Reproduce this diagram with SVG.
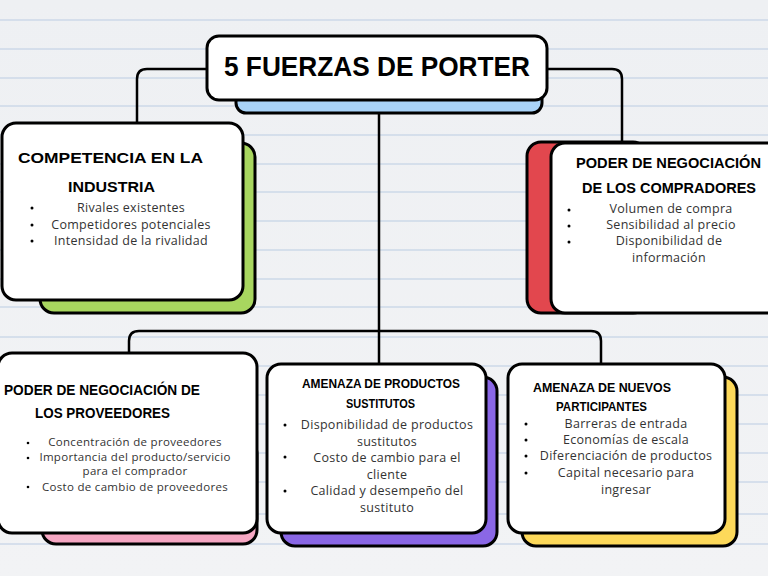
<svg xmlns="http://www.w3.org/2000/svg" width="768" height="576" viewBox="0 0 768 576">
<defs>
<linearGradient id="bg" x1="0" y1="0" x2="0" y2="1">
<stop offset="0" stop-color="#eef0f3"/>
<stop offset="1" stop-color="#f2f3f5"/>
</linearGradient>
</defs>
<style>
.rule{stroke:#cdd8e8;stroke-width:1.5}
.box{fill:#ffffff;stroke:#000;stroke-width:3}
.sh{stroke:#000;stroke-width:3}
.conn{fill:none;stroke:#000;stroke-width:2.5}
.title{font-family:"Liberation Sans",Arial,sans-serif;font-weight:700;font-size:28px;fill:#000}
.head{font-family:"Liberation Sans",Arial,sans-serif;font-weight:700;fill:#000}
.body{font-family:"Open Sans","Liberation Sans",sans-serif;font-weight:400;font-size:12.5px;letter-spacing:0.3px;fill:#333333;text-anchor:middle}
.small{font-size:11.5px;letter-spacing:0.3px}
.dot{fill:#000}
</style>
<rect x="0" y="0" width="768" height="576" fill="url(#bg)"/>
<g id="rules">
<line class="rule" x1="0" y1="20" x2="768" y2="20"/>
<line class="rule" x1="0" y1="49" x2="768" y2="49"/>
<line class="rule" x1="0" y1="78" x2="768" y2="78"/>
<line class="rule" x1="0" y1="106" x2="768" y2="106"/>
<line class="rule" x1="0" y1="135" x2="768" y2="135"/>
<line class="rule" x1="0" y1="164" x2="768" y2="164"/>
<line class="rule" x1="0" y1="192" x2="768" y2="192"/>
<line class="rule" x1="0" y1="221" x2="768" y2="221"/>
<line class="rule" x1="0" y1="250" x2="768" y2="250"/>
<line class="rule" x1="0" y1="279" x2="768" y2="279"/>
<line class="rule" x1="0" y1="307" x2="768" y2="307"/>
<line class="rule" x1="0" y1="337" x2="768" y2="337"/>
<line class="rule" x1="0" y1="366" x2="768" y2="366"/>
<line class="rule" x1="0" y1="395" x2="768" y2="395"/>
<line class="rule" x1="0" y1="424" x2="768" y2="424"/>
<line class="rule" x1="0" y1="453" x2="768" y2="453"/>
<line class="rule" x1="0" y1="482" x2="768" y2="482"/>
<line class="rule" x1="0" y1="514" x2="768" y2="514"/>
<line class="rule" x1="0" y1="544" x2="768" y2="544"/>
</g>
<g id="connectors">
<path class="conn" d="M207,69 H147 Q137,69 137,79 V124"/>
<path class="conn" d="M547,69 H612 Q622,69 622,79 V144"/>
<path class="conn" d="M379,110 V364"/>
<path class="conn" d="M129,353 V341 Q129,331 139,331 H591 Q601,331 601,341 V365"/>
</g>
<g id="title">
<rect class="sh" x="236" y="84" width="306" height="29" rx="10" fill="#a9d3f8"/>
<rect class="box" x="207" y="36" width="340" height="64" rx="12"/>
<text class="title" x="377" y="76" text-anchor="middle" textLength="306" lengthAdjust="spacingAndGlyphs">5 FUERZAS DE PORTER</text>
</g>
<g id="competencia">
<rect class="sh" x="40" y="143" width="215" height="170" rx="14" fill="#a8d65f"/>
<rect class="box" x="2" y="123" width="241" height="177" rx="14"/>
<text class="head" x="18" y="163" font-size="15" textLength="185" lengthAdjust="spacingAndGlyphs">COMPETENCIA EN LA</text>
<text class="head" x="68" y="192" font-size="15" textLength="87" lengthAdjust="spacingAndGlyphs">INDUSTRIA</text>
<circle class="dot" cx="32" cy="208" r="1.5"/>
<circle class="dot" cx="32" cy="225" r="1.5"/>
<circle class="dot" cx="32" cy="241" r="1.5"/>
<text class="body" x="131" y="212">Rivales existentes</text>
<text class="body" x="131" y="229">Competidores potenciales</text>
<text class="body" x="131" y="245">Intensidad de la rivalidad</text>
</g>
<g id="compradores">
<rect class="sh" x="527" y="142" width="120" height="171" rx="14" fill="#e2474e"/>
<rect class="box" x="551" y="143" width="230" height="170" rx="14"/>
<text class="head" x="576" y="168" font-size="15" textLength="185" lengthAdjust="spacingAndGlyphs">PODER DE NEGOCIACIÓN</text>
<text class="head" x="582" y="193" font-size="15" textLength="174" lengthAdjust="spacingAndGlyphs">DE LOS COMPRADORES</text>
<circle class="dot" cx="569" cy="210" r="1.5"/>
<circle class="dot" cx="569" cy="226" r="1.5"/>
<circle class="dot" cx="569" cy="242" r="1.5"/>
<text class="body" x="671" y="213">Volumen de compra</text>
<text class="body" x="671" y="229">Sensibilidad al precio</text>
<text class="body" x="669" y="245">Disponibilidad de</text>
<text class="body" x="669" y="262">información</text>
</g>
<g id="proveedores">
<rect class="sh" x="42" y="440" width="215" height="104" rx="14" fill="#f6a7c3"/>
<rect class="box" x="-2" y="353" width="259" height="180" rx="14"/>
<text class="head" x="4" y="395" font-size="14" textLength="196" lengthAdjust="spacingAndGlyphs">PODER DE NEGOCIACIÓN DE</text>
<text class="head" x="35" y="418" font-size="14" textLength="135" lengthAdjust="spacingAndGlyphs">LOS PROVEEDORES</text>
<circle class="dot" cx="28" cy="443" r="1.3"/>
<circle class="dot" cx="28" cy="458" r="1.3"/>
<circle class="dot" cx="28" cy="487" r="1.3"/>
<text class="body small" x="135" y="446">Concentración de proveedores</text>
<text class="body small" x="135" y="461">Importancia del producto/servicio</text>
<text class="body small" x="135" y="475">para el comprador</text>
<text class="body small" x="135" y="491">Costo de cambio de proveedores</text>
</g>
<g id="sustitutos">
<rect class="sh" x="281" y="377" width="216" height="169" rx="14" fill="#8a67e6"/>
<rect class="box" x="267" y="364" width="219" height="169" rx="14"/>
<text class="head" x="302" y="388" font-size="12.5" textLength="158" lengthAdjust="spacingAndGlyphs">AMENAZA DE PRODUCTOS</text>
<text class="head" x="346" y="408" font-size="12.5" textLength="69" lengthAdjust="spacingAndGlyphs">SUSTITUTOS</text>
<circle class="dot" cx="285" cy="425" r="1.5"/>
<circle class="dot" cx="285" cy="457" r="1.5"/>
<circle class="dot" cx="285" cy="491" r="1.5"/>
<text class="body" x="387" y="429">Disponibilidad de productos</text>
<text class="body" x="387" y="446">sustitutos</text>
<text class="body" x="387" y="462">Costo de cambio para el</text>
<text class="body" x="387" y="479">cliente</text>
<text class="body" x="387" y="495">Calidad y desempeño del</text>
<text class="body" x="387" y="512">sustituto</text>
</g>
<g id="nuevos">
<rect class="sh" x="522" y="377" width="215" height="169" rx="14" fill="#fdd95a"/>
<rect class="box" x="508" y="364" width="217" height="169" rx="14"/>
<text class="head" x="533" y="392" font-size="12.5" textLength="138" lengthAdjust="spacingAndGlyphs">AMENAZA DE NUEVOS</text>
<text class="head" x="556" y="411" font-size="12.5" textLength="91" lengthAdjust="spacingAndGlyphs">PARTICIPANTES</text>
<circle class="dot" cx="526" cy="424" r="1.5"/>
<circle class="dot" cx="526" cy="440" r="1.5"/>
<circle class="dot" cx="526" cy="456" r="1.5"/>
<circle class="dot" cx="526" cy="473" r="1.5"/>
<text class="body" x="626" y="428">Barreras de entrada</text>
<text class="body" x="626" y="444">Economías de escala</text>
<text class="body" x="626" y="460">Diferenciación de productos</text>
<text class="body" x="626" y="477">Capital necesario para</text>
<text class="body" x="626" y="494">ingresar</text>
</g>
</svg>
